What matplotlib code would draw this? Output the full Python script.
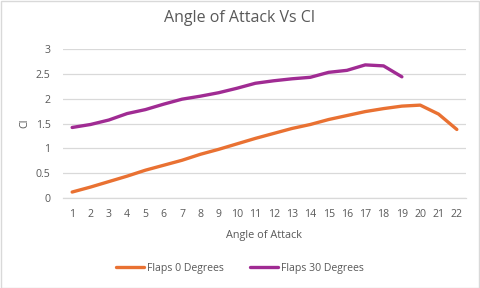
import matplotlib
matplotlib.use('Agg')
import matplotlib.pyplot as plt
from matplotlib.patches import Rectangle

plt.rcParams['font.family'] = ['Open Sans', 'DejaVu Sans']

# data
angles = list(range(1, 23))
flaps0 = [0.12, 0.22, 0.33, 0.44, 0.56, 0.66, 0.76, 0.88, 0.98, 1.09,
          1.20, 1.30, 1.40, 1.48, 1.58, 1.66, 1.74, 1.80, 1.85, 1.87,
          1.69, 1.38]
flaps30 = [1.42, 1.48, 1.57, 1.70, 1.78, 1.89, 1.99, 2.05, 2.12, 2.21,
           2.31, 2.36, 2.40, 2.43, 2.53, 2.57, 2.68, 2.66, 2.44]
yticks = [0, 0.5, 1, 1.5, 2, 2.5, 3]
ytick_labels = ['0', '0.5', '1', '1.5', '2', '2.5', '3']

orange = '#E97132'
purple = '#A02B93'
text_c = '#595959'
grid_c = '#D9D9D9'

W, H = 480, 288
fig = plt.figure(figsize=(W / 100, H / 100), dpi=100)
fig.patches.append(Rectangle((0.5 / W, 0.5 / H), 1 - 1.5 / W, 1 - 1.5 / H,
                             transform=fig.transFigure, fill=False,
                             edgecolor='#D9D9D9', linewidth=1))

ax = fig.add_axes([63 / W, (H - 198) / H, 403 / W, 149 / H])
ax.plot(angles, flaps0, color=orange, lw=2.4, label='Flaps 0 Degrees',
        solid_capstyle='round')
ax.plot(angles[:len(flaps30)], flaps30, color=purple, lw=2.4,
        label='Flaps 30 Degrees', solid_capstyle='round')

ax.set_xlim(0.5, 22.5)
ax.set_ylim(0, 3)
ax.set_xticks(angles)
ax.set_yticks(yticks)
ax.set_yticklabels(ytick_labels)
ax.tick_params(length=0, labelsize=7.6, colors=text_c)
ax.tick_params(axis='y', pad=9)
ax.tick_params(axis='x', pad=8)
ax.grid(axis='y', color=grid_c, lw=0.9)
ax.set_axisbelow(True)
for s in ['top', 'right', 'left']:
    ax.spines[s].set_visible(False)
ax.spines['bottom'].set_color(grid_c)
ax.spines['bottom'].set_linewidth(0.9)

ax.set_xlabel('Angle of Attack', fontsize=7.8, color=text_c, labelpad=7)
ax.set_ylabel('Cl', fontsize=7.8, color=text_c, labelpad=4)
fig.text(0.5, 1 - 18 / H, 'Angle of Attack Vs Cl', ha='center', va='center',
         fontsize=11.5, color=text_c)

fig.legend(loc='center', bbox_to_anchor=(0.5, 1 - 268 / H), ncol=2,
           frameon=False, fontsize=7.6, labelcolor=text_c, handlelength=2.6,
           handletextpad=0.3, columnspacing=2.5)

fig.savefig('out.png', dpi=100)
